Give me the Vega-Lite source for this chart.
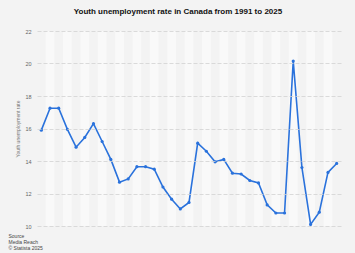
{
  "$schema": "https://vega.github.io/schema/vega-lite/v6.json",
  "width": 304,
  "height": 195,
  "autosize": {"type": "none"},
  "padding": {"left": 37, "top": 31, "right": 14, "bottom": 27},
  "background": "#f3f3f3",
  "config": {"view": {"stroke": null}, "font": "Liberation Sans"},
  "title": {
    "text": "Youth unemployment rate in Canada from 1991 to 2025",
    "fontSize": 8,
    "fontWeight": "bold",
    "color": "#111111",
    "anchor": "middle",
    "dx": -11,
    "offset": 13
  },
  "data": {
    "values": [
      {"year": "1991", "rate": 15.9},
      {"year": "1992", "rate": 17.25},
      {"year": "1993", "rate": 17.25},
      {"year": "1994", "rate": 15.95},
      {"year": "1995", "rate": 14.85},
      {"year": "1996", "rate": 15.45},
      {"year": "1997", "rate": 16.3},
      {"year": "1998", "rate": 15.2},
      {"year": "1999", "rate": 14.1},
      {"year": "2000", "rate": 12.7},
      {"year": "2001", "rate": 12.9},
      {"year": "2002", "rate": 13.65},
      {"year": "2003", "rate": 13.65},
      {"year": "2004", "rate": 13.5},
      {"year": "2005", "rate": 12.4},
      {"year": "2006", "rate": 11.65},
      {"year": "2007", "rate": 11.05},
      {"year": "2008", "rate": 11.45},
      {"year": "2009", "rate": 15.1},
      {"year": "2010", "rate": 14.6},
      {"year": "2011", "rate": 13.95},
      {"year": "2012", "rate": 14.1},
      {"year": "2013", "rate": 13.25},
      {"year": "2014", "rate": 13.2},
      {"year": "2015", "rate": 12.8},
      {"year": "2016", "rate": 12.65},
      {"year": "2017", "rate": 11.3},
      {"year": "2018", "rate": 10.8},
      {"year": "2019", "rate": 10.8},
      {"year": "2020", "rate": 20.15},
      {"year": "2021", "rate": 13.6},
      {"year": "2022", "rate": 10.1},
      {"year": "2023", "rate": 10.85},
      {"year": "2024", "rate": 13.3},
      {"year": "2025", "rate": 13.85}
    ]
  },
  "encoding": {
    "x": {
      "field": "year",
      "type": "ordinal",
      "scale": {"type": "band", "paddingInner": 0, "paddingOuter": 0},
      "axis": {
        "labels": false,
        "ticks": false,
        "domain": false,
        "title": ["Source", "Media Reach", "© Statista 2025"],
        "titleAnchor": "start",
        "titleAlign": "left",
        "titleBaseline": "top",
        "titleX": -29,
        "titleY": 7,
        "titleFontSize": 5,
        "titleFontWeight": "normal",
        "titleColor": "#444444",
        "titleLineHeight": 6
      }
    }
  },
  "layer": [
    {
      "transform": [{"filter": "toNumber(datum.year) % 2 == 0"}],
      "mark": {"type": "rect", "color": "#f9f9f9"},
      "encoding": {}
    },
    {
      "mark": {"type": "line", "color": "#2a72dc", "strokeWidth": 1.6, "point": {"size": 10, "color": "#2a72dc"}},
      "encoding": {
        "y": {
          "field": "rate",
          "type": "quantitative",
          "scale": {"domain": [10, 22]},
          "axis": {
            "zindex": 0,
            "values": [10, 12, 14, 16, 18, 20, 22],
            "title": "Youth unemployment rate",
            "titleFontSize": 5,
            "titleFontWeight": "normal",
            "titleColor": "#777777",
            "titlePadding": 4,
            "labelFontSize": 5.5,
            "labelColor": "#666666",
            "labelPadding": 6,
            "ticks": false,
            "domain": false,
            "grid": false
          }
        }
      }
    },
    {
      "mark": {"type": "rule", "opacity": 0},
      "encoding": {
        "y": {
          "field": "rate",
          "type": "quantitative",
          "scale": {"domain": [10, 22]},
          "axis": {
            "zindex": 1,
            "values": [10, 12, 14, 16, 18, 20, 22],
            "labels": false,
            "title": null,
            "ticks": false,
            "domain": false,
            "grid": true,
            "gridColor": "#d2d2d2",
            "gridDash": [4, 2],
            "gridWidth": 0.8
          }
        }
      }
    }
  ],
  "resolve": {"axis": {"y": "independent"}}
}
